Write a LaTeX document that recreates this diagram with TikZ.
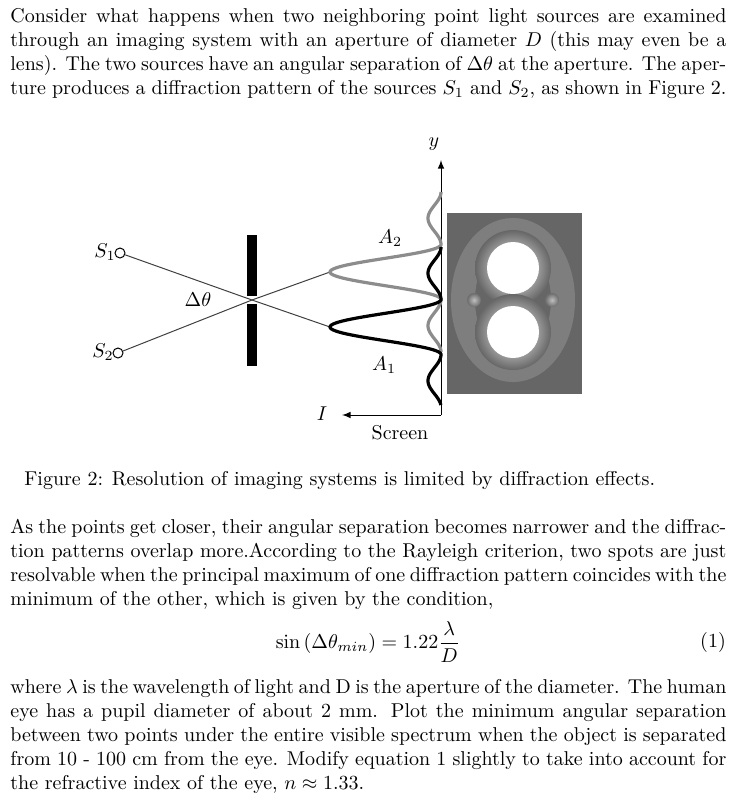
\documentclass[tikz,border=0pt]{standalone}
\begin{document}
\begin{tikzpicture}[x=0.5pt,y=-0.5pt,
  para/.style={anchor=north west,text width=358pt,align=justify,inner sep=0pt,font=\fontsize{10}{12}\selectfont},
  lbl/.style={inner sep=0pt,font=\fontsize{10}{12}\selectfont},
  ray/.style={draw=black!75,line width=0.5pt},
  declare function={dif(\t)=abs(\t)<27.5 ? 111*cos(\t/27.5*90)^2 : 13*sin((abs(\t)-27.5)/52.5*180)^2;}]
\useasboundingbox (0,0) rectangle (743,803);
\node[para] (p1) at (10,8) {Consider what happens when two neighboring point light sources are examined\linebreak through an imaging system with an aperture of diameter $D$ (this may even be a\linebreak lens). The two sources have an angular separation of $\Delta\theta$ at the aperture. The aper-\linebreak ture produces a diffraction pattern of the sources $S_1$ and $S_2$, as shown in Figure 2.};
% image
\fill[black!60] (447,213) rectangle (582,394);
\draw[black!48,line width=12pt,opacity=0.8] (513,300) ellipse [x radius=50,y radius=70];
\shade[inner color=white,outer color=black!60] (513,268) circle [radius=38];
\shade[inner color=white,outer color=black!60] (513,332) circle [radius=38];
\fill[white] (513,268) circle [radius=26];
\fill[white] (513,332) circle [radius=26];
\shade[inner color=black!25,outer color=black!58] (474,300) circle [radius=7];
\shade[inner color=black!25,outer color=black!58] (552,300) circle [radius=7];
% axes
\coordinate (O) at (441,415);
\coordinate (Y) at (441,160);
\coordinate (Ix) at (342,415);
\draw[-latex,line width=0.5pt] (O) -- (Y);
\draw[-latex,line width=0.5pt] (O) -- (Ix);
\node[lbl] (yl) at (434,144) {$y$};
\node[lbl] (il) at (322,414) {$I$};
\node[lbl] (scr) at (400,433) {Screen};
% barrier
\fill (247,235) rectangle (257,296);
\fill (247,304) rectangle (257,366);
% sources
\node[draw,circle,inner sep=0pt,minimum size=5pt,line width=0.5pt] (s1) at (120,253) {};
\node[draw,circle,inner sep=0pt,minimum size=5pt,line width=0.5pt] (s2) at (118,353) {};
\node[lbl,anchor=east] (s1l) at (116,252) {$S_1$};
\node[lbl,anchor=east] (s2l) at (114,352) {$S_2$};
\coordinate (c) at (252,300);
\coordinate (p1e) at (330,327);
\coordinate (p2e) at (330,272);
\draw[ray] (s1) -- (c) -- (p1e);
\draw[ray] (s2) -- (c) -- (p2e);
\node[lbl] (dt) at (198,300) {$\Delta\theta$};
% curves
\draw[black!45,line width=1.6pt] plot[domain=-80:80,samples=161] ({441-dif(\x)},{272+\x});
\draw[black,line width=1.6pt] plot[domain=-80:78,samples=159] ({441-dif(\x)},{327+\x});
\node[lbl] (a2) at (390,238) {$A_2$};
\node[lbl] (a1) at (384,365) {$A_1$};
% caption
\node[anchor=west,inner sep=0pt,font=\fontsize{10}{12}\selectfont] (cap) at (24,481) {Figure 2: Resolution of imaging systems is limited by diffraction effects.};
\node[para] (p2) at (10,519) {As the points get closer, their angular separation becomes narrower and the diffrac-\linebreak tion patterns overlap more.According to the Rayleigh criterion, two spots are just\linebreak resolvable when the principal maximum of one diffraction pattern coincides with the\linebreak minimum of the other, which is given by the condition,};
\node[inner sep=0pt,font=\fontsize{10}{12}\selectfont] (eq) at (368,642) {$\displaystyle \sin\left(\Delta\theta_{min}\right)=1.22\frac{\lambda}{D}$};
\node[inner sep=0pt,font=\fontsize{10}{12}\selectfont] (eqn) at (713,642) {(1)};
\node[para] (p3) at (10,679) {where $\lambda$ is the wavelength of light and D is the aperture of the diameter. The human\linebreak eye has a pupil diameter of about 2 mm. Plot the minimum angular separation\linebreak between two points under the entire visible spectrum when the object is separated\linebreak from 10 - 100 cm from the eye. Modify equation 1 slightly to take into account for\linebreak the refractive index of the eye, $n\approx1.33$.};
\end{tikzpicture}
\end{document}
